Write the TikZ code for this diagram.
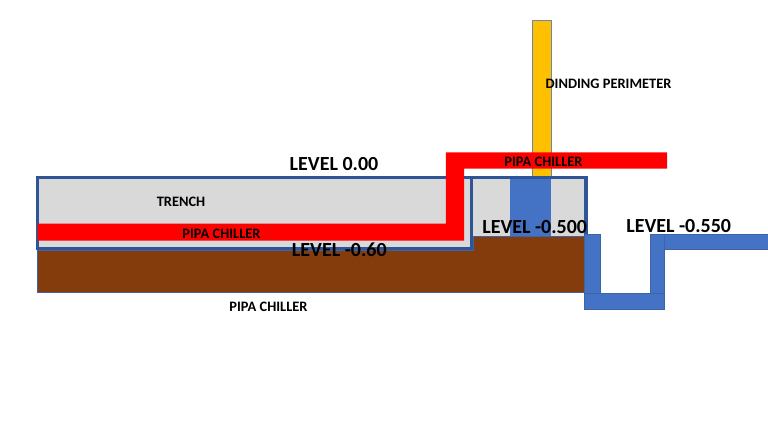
\documentclass[tikz,border=0pt]{standalone}
\usepackage{fontspec}
\setmainfont{Carlito}
\definecolor{frameblue}{HTML}{2F5597}
\definecolor{fillblue}{HTML}{4472C4}
\definecolor{edgeblue}{HTML}{3E64A8}
\definecolor{postedge}{HTML}{6C87AE}
\definecolor{soil}{HTML}{843C0C}
\definecolor{trenchgrey}{HTML}{D9D9D9}
\definecolor{amber}{HTML}{FFC000}
\tikzset{
  x=1pt,y=-1pt,
  bigl/.style={font=\bfseries\fontsize{20}{22}\selectfont,text=black,inner sep=0pt},
  smalll/.style={font=\bfseries\fontsize{14.4}{16}\selectfont,text=black,inner sep=0pt},
  bluepart/.style={fill=fillblue,draw=edgeblue,line width=0.7pt},
  framepart/.style={fill=trenchgrey,draw=frameblue,line width=3.3pt},
  pipepart/.style={fill=red,draw=none},
}
\begin{document}
\begin{tikzpicture}
\useasboundingbox (0,0) rectangle (768,433);
% post
\path[fill=amber,draw=postedge,line width=0.7pt] (532,20.5) rectangle (551.5,178);
% soil
\path[fill=soil,draw=edgeblue,line width=0.7pt] (37.5,292.5) -- (37.5,250) -- (473,250) -- (473,236) -- (585,236) -- (585,292.5) -- cycle;
% frames
\path[fill=trenchgrey] (473,177.5) rectangle (586,235.5);
\path[draw=frameblue,line width=3.3pt] (471.5,177.5) -- (586,177.5) -- (586,235.5);
\path[framepart] (37.2,177.7) rectangle (471.8,248.7);
% footing
\path[fill=fillblue] (509.5,179) rectangle (551,235.5);
% drain
\path[bluepart] (584.7,234) rectangle (600,293);
\path[bluepart] (650,234) rectangle (664.5,293);
\path[bluepart] (584.7,293.3) rectangle (664.5,309);
\path[bluepart] (664.5,234.3) rectangle (768,249);
% pipe
\path[pipepart] (37.5,223.5) -- (445.8,223.5) -- (445.8,152.4) -- (667,152.4) -- (667,168.6) -- (464,168.6) -- (464,240.5) -- (37.5,240.5) -- cycle;
% labels
\node[bigl] (lv0) at (334,164) {LEVEL 0.00};
\node[bigl] (lv6) at (339.3,249.5) {LEVEL -0.60};
\node[bigl] (lv5) at (534.7,227.5) {LEVEL -0.500};
\node[bigl] (lv55) at (678.7,226.5) {LEVEL -0.550};
\node[smalll] (tr) at (181,202) {TRENCH};
\node[smalll] (p1) at (221.5,234) {PIPA CHILLER};
\node[smalll] (p2) at (268.5,307) {PIPA CHILLER};
\node[smalll] (p3) at (543.5,162) {PIPA CHILLER};
\node[smalll] (dp) at (608.5,83.5) {DINDING PERIMETER};
\end{tikzpicture}
\end{document}
